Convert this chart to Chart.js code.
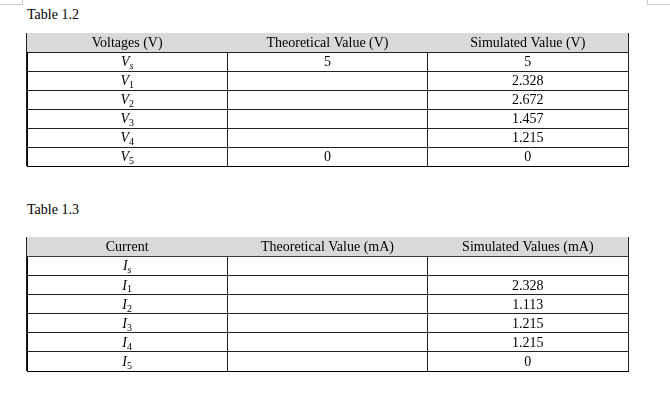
<!DOCTYPE html>
<html><head><meta charset="utf-8">
<script src="https://cdn.jsdelivr.net/npm/chart.js@4"></script>
<style>
body{margin:0;background:#fff;font-family:"Liberation Serif",serif;}
.t{position:absolute;font-size:14px;color:#000;}
.box{position:absolute;left:26px;width:603px;}
</style></head><body>
<div style="position:absolute;left:0;top:0;width:22px;height:4px;border-right:1px solid #ccc;border-bottom:1px solid #ccc"></div>
<div style="position:absolute;right:0;top:0;width:22px;height:4px;border-left:1px solid #ccc;border-bottom:1px solid #ccc"></div>
<div class="t" style="left:27px;top:7px">Table 1.2</div>
<div class="box" style="top:32px;height:135px"><canvas id="c1"></canvas></div>
<div class="t" style="left:27px;top:202px">Table 1.3</div>
<div class="box" style="top:236px;height:136px"><canvas id="c2"></canvas></div>
<script>
const columns1 = ["Voltages (V)", "Theoretical Value (V)", "Simulated Value (V)"];
const rowSymbols1 = ["V|s", "V|1", "V|2", "V|3", "V|4", "V|5"];
const theoretical1 = ["5", "", "", "", "", "0"];
const simulated1 = ["5", "2.328", "2.672", "1.457", "1.215", "0"];

const columns2 = ["Current", "Theoretical Value (mA)", "Simulated Values (mA)"];
const rowSymbols2 = ["I|s", "I|1", "I|2", "I|3", "I|4", "I|5"];
const theoretical2 = ["", "", "", "", "", ""];
const simulated2 = ["", "2.328", "1.113", "1.215", "1.215", "0"];

function makeTable(id, columns, syms, theo, sim) {
  const rows = ["h"].concat(syms.map((s,i)=>"r"+i));
  const plugin = {
    id: "cells",
    beforeDatasetsDraw(chart) {
      const {ctx, scales:{x,y}, chartArea:a} = chart;
      const h = y.getPixelForValue(0), step = y.getPixelForValue(1) - h;
      ctx.save();
      ctx.fillStyle = "#d9d9d9";
      ctx.fillRect(a.left, h - step/2, a.right - a.left, step);
      ctx.restore();
    },
    afterDraw(chart) {
      const {ctx, scales:{x,y}} = chart;
      ctx.save();
      ctx.fillStyle = "#000";
      ctx.textBaseline = "middle";
      ctx.textAlign = "center";
      ctx.font = "14px 'Liberation Serif'";
      columns.forEach((c,i)=>ctx.fillText(c, x.getPixelForValue(i), y.getPixelForValue(0)+1));
      syms.forEach((s,i)=>{
        const [b, sub] = s.split("|");
        const cx = x.getPixelForValue(0), cy = y.getPixelForValue(i+1)+1;
        ctx.font = "italic 14px 'Liberation Serif'";
        const w1 = ctx.measureText(b).width;
        ctx.font = "italic 10px 'Liberation Serif'";
        const w2 = ctx.measureText(sub).width;
        const sx = cx - (w1 + w2)/2;
        ctx.textAlign = "left";
        ctx.font = "italic 14px 'Liberation Serif'";
        ctx.fillText(b, sx, cy);
        ctx.font = (sub === "s" ? "italic " : "") + "10px 'Liberation Serif'";
        ctx.fillText(sub, sx + w1, cy + 4);
        ctx.textAlign = "center";
        ctx.font = "14px 'Liberation Serif'";
        ctx.fillText(theo[i], x.getPixelForValue(1), cy);
        ctx.fillText(sim[i], x.getPixelForValue(2), cy);
      });
      ctx.restore();
    }
  };
  const grid = {offset:true, drawTicks:false, color:"#222", lineWidth:1};
  new Chart(document.getElementById(id), {
    type: "scatter",
    data: { datasets: [] },
    options: {
      responsive:true, maintainAspectRatio:false, animation:false,
      layout:{padding:1},
      plugins:{legend:{display:false}, tooltip:{enabled:false}},
      scales:{
        x:{type:"category", labels:columns, offset:true, grid, border:{color:"#000"}, ticks:{display:false}},
        y:{type:"category", labels:rows, offset:true, grid, border:{color:"#000"}, ticks:{display:false}}
      }
    },
    plugins:[plugin]
  });
}
makeTable("c1", columns1, rowSymbols1, theoretical1, simulated1);
makeTable("c2", columns2, rowSymbols2, theoretical2, simulated2);
</script></body></html>
